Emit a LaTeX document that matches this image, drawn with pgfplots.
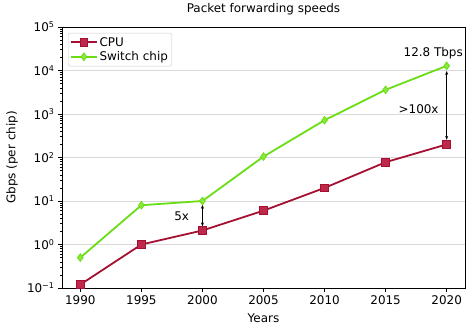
\documentclass[border=0pt]{standalone}
\usepackage{fontspec}
\setmainfont{DejaVu Sans}
\usepackage{pgfplots}
\pgfplotsset{compat=1.18}
\usetikzlibrary{arrows.meta}
\definecolor{cpu}{RGB}{165,15,50}
\definecolor{cpufill}{RGB}{190,40,75}
\definecolor{sw}{RGB}{105,222,20}
\definecolor{swfill}{RGB}{140,232,60}
\begin{document}
\begin{tikzpicture}[font=\fontsize{12}{14}\selectfont]
\path[use as bounding box] (-62bp,-45bp) rectangle (412bp,288bp);
\begin{axis}[
  at={(0,0)}, anchor=south west,
  width=403bp, height=261bp, scale only axis,
  ymode=log,
  xmin=1988.5, xmax=2021.5,
  ymin=0.1, ymax=100000,
  xtick={1990,1995,2000,2005,2010,2015,2020},
  xticklabels={1990,1995,2000,2005,2010,2015,2020},
  ytick={0.1,1,10,100,1000,10000,100000},
  yticklabels={10\textsuperscript{−1},10\textsuperscript{0},10\textsuperscript{1},10\textsuperscript{2},10\textsuperscript{3},10\textsuperscript{4},10\textsuperscript{5}},
  tick label style={font=\fontsize{12}{14}\selectfont},
  label style={font=\fontsize{12}{14}\selectfont},
  tick align=outside, tick pos=left,
  ymajorgrids, major grid style={gray!30, line width=0.8pt},
  axis line style={line width=0.8pt},
  major tick length=4bp, minor tick length=2bp,
  tick style={black, line width=0.6pt},
  title={Packet forwarding speeds},
  title style={at={(axis description cs:0.5,1.046)}, anchor=center, font=\fontsize{12}{14}\selectfont},
  xlabel={Years}, ylabel={Gbps (per chip)},
  xlabel style={at={(axis description cs:0.5,-0.115)}, anchor=center},
  ylabel style={at={(axis description cs:-0.124,0.5)}, anchor=center},
  legend style={draw=gray!40, rounded corners=2pt, font=\fontsize{12}{14}\selectfont, at={(0.015,0.977)}, anchor=north west, inner sep=2pt, row sep=0pt},
  legend cell align=left,
  legend image code/.code={\draw[mark repeat=2,mark phase=2,#1] plot coordinates {(0cm,0cm) (0.45cm,0cm) (0.9cm,0cm)};},
]
\addplot[cpu, line width=1.8pt, mark=square*, mark size=3.8pt, mark options={fill=cpufill, draw=cpu, line width=0.8pt}]
  coordinates {(1990,0.12) (1995,1.0) (2000,2.1) (2005,6) (2010,20) (2015,78) (2020,200)};
\addlegendentry{CPU}
\addplot[sw, line width=1.8pt, mark=diamond*, mark size=3.8pt, mark options={fill=swfill, draw=sw, line width=0.8pt}]
  coordinates {(1990,0.5) (1995,8) (2000,10) (2005,105) (2010,720) (2015,3600) (2020,12800)};
\addlegendentry{Switch chip}
\draw[{Stealth[length=4pt]}-{Stealth[length=4pt]}, line width=0.9pt] (axis cs:2000,8.2) -- (axis cs:2000,2.6);
\node at (axis cs:1998.3,4.5) {5x};
\draw[{Stealth[length=4pt]}-{Stealth[length=4pt]}, line width=0.9pt] (axis cs:2020,9800) -- (axis cs:2020,255);
\node at (axis cs:2017.7,1300) {>100x};
\node at (axis cs:2018.9,25500) {12.8 Tbps};
\end{axis}
\end{tikzpicture}
\end{document}
